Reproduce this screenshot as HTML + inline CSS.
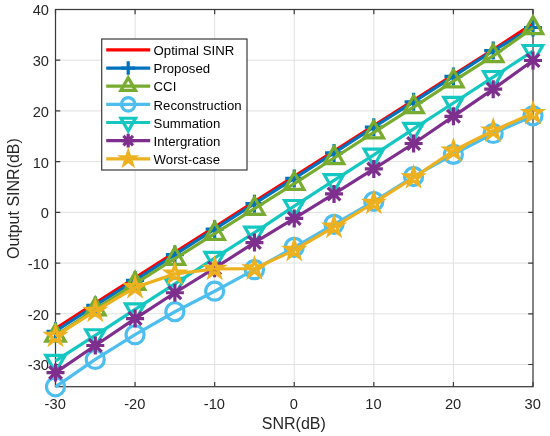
<!DOCTYPE html>
<html><head><meta charset="utf-8"><title>Output SINR versus SNR</title>
<style>html,body{margin:0;padding:0;background:#fff;}body{width:550px;height:436px;overflow:hidden;}svg{display:block;}</style>
</head><body>
<svg width="550" height="436" viewBox="0 0 550 436">
<rect width="550" height="436" fill="#fff"/>
<path d="M135.08 9.5V386.7M214.67 9.5V386.7M294.25 9.5V386.7M373.83 9.5V386.7M453.42 9.5V386.7M55.5 364.5H533M55.5 313.79H533M55.5 263.07H533M55.5 212.36H533M55.5 161.64H533M55.5 110.93H533M55.5 60.21H533" stroke="#e1e1e1" stroke-width="1" fill="none"/>
<path d="M55.5 386.7v-4.8M55.5 9.5v4.8M135.08 386.7v-4.8M135.08 9.5v4.8M214.67 386.7v-4.8M214.67 9.5v4.8M294.25 386.7v-4.8M294.25 9.5v4.8M373.83 386.7v-4.8M373.83 9.5v4.8M453.42 386.7v-4.8M453.42 9.5v4.8M533 386.7v-4.8M533 9.5v4.8M55.5 364.5h4.8M533 364.5h-4.8M55.5 313.79h4.8M533 313.79h-4.8M55.5 263.07h4.8M533 263.07h-4.8M55.5 212.36h4.8M533 212.36h-4.8M55.5 161.64h4.8M533 161.64h-4.8M55.5 110.93h4.8M533 110.93h-4.8M55.5 60.21h4.8M533 60.21h-4.8M55.5 9.5h4.8M533 9.5h-4.8" stroke="#3a3a3a" stroke-width="1.2" fill="none"/>
<rect x="55.5" y="9.5" width="477.5" height="377.2" fill="none" stroke="#3a3a3a" stroke-width="1.25"/>
<g font-family="'Liberation Sans', Arial, Helvetica, sans-serif" fill="#262626">
<g font-size="14.67">
<text x="55.2" y="408.5" text-anchor="middle">-30</text>
<text x="134.78" y="408.5" text-anchor="middle">-20</text>
<text x="214.37" y="408.5" text-anchor="middle">-10</text>
<text x="293.95" y="408.5" text-anchor="middle">0</text>
<text x="373.53" y="408.5" text-anchor="middle">10</text>
<text x="453.12" y="408.5" text-anchor="middle">20</text>
<text x="532.7" y="408.5" text-anchor="middle">30</text>
<text x="49.0" y="370.4" text-anchor="end">-30</text>
<text x="49.0" y="319.69" text-anchor="end">-20</text>
<text x="49.0" y="268.97" text-anchor="end">-10</text>
<text x="49.0" y="218.26" text-anchor="end">0</text>
<text x="49.0" y="167.54" text-anchor="end">10</text>
<text x="49.0" y="116.83" text-anchor="end">20</text>
<text x="49.0" y="66.11" text-anchor="end">30</text>
<text x="49.0" y="15.4" text-anchor="end">40</text>
</g>
<text x="293.8" y="429.4" font-size="16" text-anchor="middle">SNR(dB)</text>
<text transform="translate(18.8 198.6) rotate(-90)" font-size="16" text-anchor="middle">Output SINR(dB)</text>
</g>
<polyline points="55.5,328.49 95.29,303.14 135.08,277.78 174.88,252.42 214.67,227.06 254.46,201.71 294.25,176.35 334.04,150.99 373.83,125.64 413.62,100.28 453.42,74.92 493.21,49.56 533,23.7" fill="none" stroke="#ff0000" stroke-width="3.2" stroke-linejoin="round"/>
<polyline points="55.5,331.28 95.29,305.42 135.08,280.31 174.88,254.6 214.67,229.19 254.46,203.63 294.25,178.38 334.04,152.92 373.83,127.16 413.62,101.8 453.42,76.44 493.21,50.58 533,27.5" fill="none" stroke="#0072bd" stroke-width="3.2" stroke-linejoin="round"/>
<path d="M46.5 331.28H64.5M55.5 322.28V340.28" stroke="#0072bd" stroke-width="3.2" fill="none"/>
<path d="M86.29 305.42H104.29M95.29 296.42V314.42" stroke="#0072bd" stroke-width="3.2" fill="none"/>
<path d="M126.08 280.31H144.08M135.08 271.31V289.31" stroke="#0072bd" stroke-width="3.2" fill="none"/>
<path d="M165.88 254.6H183.88M174.88 245.6V263.6" stroke="#0072bd" stroke-width="3.2" fill="none"/>
<path d="M205.67 229.19H223.67M214.67 220.19V238.19" stroke="#0072bd" stroke-width="3.2" fill="none"/>
<path d="M245.46 203.63H263.46M254.46 194.63V212.63" stroke="#0072bd" stroke-width="3.2" fill="none"/>
<path d="M285.25 178.38H303.25M294.25 169.38V187.38" stroke="#0072bd" stroke-width="3.2" fill="none"/>
<path d="M325.04 152.92H343.04M334.04 143.92V161.92" stroke="#0072bd" stroke-width="3.2" fill="none"/>
<path d="M364.83 127.16H382.83M373.83 118.16V136.16" stroke="#0072bd" stroke-width="3.2" fill="none"/>
<path d="M404.62 101.8H422.62M413.62 92.8V110.8" stroke="#0072bd" stroke-width="3.2" fill="none"/>
<path d="M444.42 76.44H462.42M453.42 67.44V85.44" stroke="#0072bd" stroke-width="3.2" fill="none"/>
<path d="M484.21 50.58H502.21M493.21 41.58V59.58" stroke="#0072bd" stroke-width="3.2" fill="none"/>
<path d="M524 27.5H542M533 18.5V36.5" stroke="#0072bd" stroke-width="3.2" fill="none"/>
<polyline points="55.5,335.59 95.29,309.22 135.08,283.71 174.88,258.71 214.67,233.71 254.46,208.71 294.25,183.7 334.04,157.99 373.83,132.33 413.62,107.12 453.42,81.21 493.21,55.95 533,28.01" fill="none" stroke="#77ac30" stroke-width="3.2" stroke-linejoin="round"/>
<path d="M55.5 324.4L45.8 341.19L65.2 341.19Z" stroke="#77ac30" stroke-width="3.2" fill="none" stroke-linejoin="miter"/>
<path d="M95.29 298.03L85.6 314.82L104.99 314.82Z" stroke="#77ac30" stroke-width="3.2" fill="none" stroke-linejoin="miter"/>
<path d="M135.08 272.52L125.39 289.31L144.78 289.31Z" stroke="#77ac30" stroke-width="3.2" fill="none" stroke-linejoin="miter"/>
<path d="M174.88 247.51L165.18 264.31L184.57 264.31Z" stroke="#77ac30" stroke-width="3.2" fill="none" stroke-linejoin="miter"/>
<path d="M214.67 222.51L204.97 239.31L224.36 239.31Z" stroke="#77ac30" stroke-width="3.2" fill="none" stroke-linejoin="miter"/>
<path d="M254.46 197.51L244.76 214.3L264.15 214.3Z" stroke="#77ac30" stroke-width="3.2" fill="none" stroke-linejoin="miter"/>
<path d="M294.25 172.51L284.55 189.3L303.95 189.3Z" stroke="#77ac30" stroke-width="3.2" fill="none" stroke-linejoin="miter"/>
<path d="M334.04 146.8L324.35 163.59L343.74 163.59Z" stroke="#77ac30" stroke-width="3.2" fill="none" stroke-linejoin="miter"/>
<path d="M373.83 121.13L364.14 137.93L383.53 137.93Z" stroke="#77ac30" stroke-width="3.2" fill="none" stroke-linejoin="miter"/>
<path d="M413.62 95.93L403.93 112.72L423.32 112.72Z" stroke="#77ac30" stroke-width="3.2" fill="none" stroke-linejoin="miter"/>
<path d="M453.42 70.01L443.72 86.81L463.11 86.81Z" stroke="#77ac30" stroke-width="3.2" fill="none" stroke-linejoin="miter"/>
<path d="M493.21 44.76L483.51 61.55L502.9 61.55Z" stroke="#77ac30" stroke-width="3.2" fill="none" stroke-linejoin="miter"/>
<path d="M533 16.81L523.3 33.61L542.7 33.61Z" stroke="#77ac30" stroke-width="3.2" fill="none" stroke-linejoin="miter"/>
<polyline points="55.5,386.81 95.29,359.43 135.08,334.73 174.88,311.76 214.67,291.22 254.46,269.66 294.25,247.35 334.04,224.28 373.83,201.5 413.62,176.6 453.42,154.39 493.21,133.5 533,115.75" fill="none" stroke="#4dbeee" stroke-width="3.2" stroke-linejoin="round"/>
<circle cx="55.5" cy="386.81" r="9" stroke="#4dbeee" stroke-width="3.2" fill="none"/>
<circle cx="95.29" cy="359.43" r="9" stroke="#4dbeee" stroke-width="3.2" fill="none"/>
<circle cx="135.08" cy="334.73" r="9" stroke="#4dbeee" stroke-width="3.2" fill="none"/>
<circle cx="174.88" cy="311.76" r="9" stroke="#4dbeee" stroke-width="3.2" fill="none"/>
<circle cx="214.67" cy="291.22" r="9" stroke="#4dbeee" stroke-width="3.2" fill="none"/>
<circle cx="254.46" cy="269.66" r="9" stroke="#4dbeee" stroke-width="3.2" fill="none"/>
<circle cx="294.25" cy="247.35" r="9" stroke="#4dbeee" stroke-width="3.2" fill="none"/>
<circle cx="334.04" cy="224.28" r="9" stroke="#4dbeee" stroke-width="3.2" fill="none"/>
<circle cx="373.83" cy="201.5" r="9" stroke="#4dbeee" stroke-width="3.2" fill="none"/>
<circle cx="413.62" cy="176.6" r="9" stroke="#4dbeee" stroke-width="3.2" fill="none"/>
<circle cx="453.42" cy="154.39" r="9" stroke="#4dbeee" stroke-width="3.2" fill="none"/>
<circle cx="493.21" cy="133.5" r="9" stroke="#4dbeee" stroke-width="3.2" fill="none"/>
<circle cx="533" cy="115.75" r="9" stroke="#4dbeee" stroke-width="3.2" fill="none"/>
<polyline points="55.5,360.95 95.29,335.34 135.08,309.42 174.88,283.86 214.67,258 254.46,232.64 294.25,206.12 334.04,180.31 373.83,154.8 413.62,128.93 453.42,103.02 493.21,77.1 533,51.09" fill="none" stroke="#14c7c1" stroke-width="3.2" stroke-linejoin="round"/>
<path d="M55.5 372.15L45.8 355.35L65.2 355.35Z" stroke="#14c7c1" stroke-width="3.2" fill="none" stroke-linejoin="miter"/>
<path d="M95.29 346.54L85.6 329.74L104.99 329.74Z" stroke="#14c7c1" stroke-width="3.2" fill="none" stroke-linejoin="miter"/>
<path d="M135.08 320.62L125.39 303.83L144.78 303.83Z" stroke="#14c7c1" stroke-width="3.2" fill="none" stroke-linejoin="miter"/>
<path d="M174.88 295.06L165.18 278.27L184.57 278.27Z" stroke="#14c7c1" stroke-width="3.2" fill="none" stroke-linejoin="miter"/>
<path d="M214.67 269.2L204.97 252.4L224.36 252.4Z" stroke="#14c7c1" stroke-width="3.2" fill="none" stroke-linejoin="miter"/>
<path d="M254.46 243.84L244.76 227.04L264.15 227.04Z" stroke="#14c7c1" stroke-width="3.2" fill="none" stroke-linejoin="miter"/>
<path d="M294.25 217.32L284.55 200.52L303.95 200.52Z" stroke="#14c7c1" stroke-width="3.2" fill="none" stroke-linejoin="miter"/>
<path d="M334.04 191.5L324.35 174.71L343.74 174.71Z" stroke="#14c7c1" stroke-width="3.2" fill="none" stroke-linejoin="miter"/>
<path d="M373.83 165.99L364.14 149.2L383.53 149.2Z" stroke="#14c7c1" stroke-width="3.2" fill="none" stroke-linejoin="miter"/>
<path d="M413.62 140.13L403.93 123.33L423.32 123.33Z" stroke="#14c7c1" stroke-width="3.2" fill="none" stroke-linejoin="miter"/>
<path d="M453.42 114.21L443.72 97.42L463.11 97.42Z" stroke="#14c7c1" stroke-width="3.2" fill="none" stroke-linejoin="miter"/>
<path d="M493.21 88.3L483.51 71.5L502.9 71.5Z" stroke="#14c7c1" stroke-width="3.2" fill="none" stroke-linejoin="miter"/>
<path d="M533 62.28L523.3 45.49L542.7 45.49Z" stroke="#14c7c1" stroke-width="3.2" fill="none" stroke-linejoin="miter"/>
<polyline points="55.5,372.61 95.29,345.48 135.08,318.6 174.88,292.74 214.67,268.14 254.46,242.53 294.25,218.39 334.04,193.9 373.83,168.89 413.62,143.49 453.42,116.35 493.21,89.17 533,60.52" fill="none" stroke="#7e2f8e" stroke-width="3.2" stroke-linejoin="round"/>
<path d="M46.5 372.61H64.5M55.5 363.61V381.61M49.14 366.25L61.86 378.98M49.14 378.98L61.86 366.25" stroke="#7e2f8e" stroke-width="3.2" fill="none"/>
<path d="M86.29 345.48H104.29M95.29 336.48V354.48M88.93 339.12L101.66 351.85M88.93 351.85L101.66 339.12" stroke="#7e2f8e" stroke-width="3.2" fill="none"/>
<path d="M126.08 318.6H144.08M135.08 309.6V327.6M128.72 312.24L141.45 324.97M128.72 324.97L141.45 312.24" stroke="#7e2f8e" stroke-width="3.2" fill="none"/>
<path d="M165.88 292.74H183.88M174.88 283.74V301.74M168.51 286.38L181.24 299.1M168.51 299.1L181.24 286.38" stroke="#7e2f8e" stroke-width="3.2" fill="none"/>
<path d="M205.67 268.14H223.67M214.67 259.14V277.14M208.3 261.78L221.03 274.51M208.3 274.51L221.03 261.78" stroke="#7e2f8e" stroke-width="3.2" fill="none"/>
<path d="M245.46 242.53H263.46M254.46 233.53V251.53M248.09 236.17L260.82 248.9M248.09 248.9L260.82 236.17" stroke="#7e2f8e" stroke-width="3.2" fill="none"/>
<path d="M285.25 218.39H303.25M294.25 209.39V227.39M287.89 212.03L300.61 224.76M287.89 224.76L300.61 212.03" stroke="#7e2f8e" stroke-width="3.2" fill="none"/>
<path d="M325.04 193.9H343.04M334.04 184.9V202.9M327.68 187.53L340.41 200.26M327.68 200.26L340.41 187.53" stroke="#7e2f8e" stroke-width="3.2" fill="none"/>
<path d="M364.83 168.89H382.83M373.83 159.89V177.89M367.47 162.53L380.2 175.26M367.47 175.26L380.2 162.53" stroke="#7e2f8e" stroke-width="3.2" fill="none"/>
<path d="M404.62 143.49H422.62M413.62 134.49V152.49M407.26 137.12L419.99 149.85M407.26 149.85L419.99 137.12" stroke="#7e2f8e" stroke-width="3.2" fill="none"/>
<path d="M444.42 116.35H462.42M453.42 107.35V125.35M447.05 109.99L459.78 122.72M447.05 122.72L459.78 109.99" stroke="#7e2f8e" stroke-width="3.2" fill="none"/>
<path d="M484.21 89.17H502.21M493.21 80.17V98.17M486.84 82.81L499.57 95.54M486.84 95.54L499.57 82.81" stroke="#7e2f8e" stroke-width="3.2" fill="none"/>
<path d="M524 60.52H542M533 51.52V69.52M526.64 54.15L539.36 66.88M526.64 66.88L539.36 54.15" stroke="#7e2f8e" stroke-width="3.2" fill="none"/>
<polyline points="55.5,336.1 95.29,311 135.08,287.41 174.88,273.87 214.67,269 254.46,268.65 294.25,250.14 334.04,226.91 373.83,202.97 413.62,177.62 453.42,150.79 493.21,130.71 533,113.31" fill="none" stroke="#edb120" stroke-width="3.2" stroke-linejoin="round"/>
<path d="M55.5 327.37L57.46 333.4L63.8 333.4L58.67 337.13L60.63 343.16L55.5 339.43L50.37 343.16L52.33 337.13L47.2 333.4L53.54 333.4Z" stroke="#edb120" stroke-width="3.2" fill="none" stroke-linejoin="miter" stroke-miterlimit="10"/>
<path d="M95.29 302.27L97.25 308.3L103.59 308.3L98.46 312.03L100.42 318.06L95.29 314.33L90.16 318.06L92.12 312.03L86.99 308.3L93.33 308.3Z" stroke="#edb120" stroke-width="3.2" fill="none" stroke-linejoin="miter" stroke-miterlimit="10"/>
<path d="M135.08 278.68L137.04 284.72L143.39 284.72L138.25 288.44L140.21 294.48L135.08 290.75L129.95 294.48L131.91 288.44L126.78 284.72L133.12 284.72Z" stroke="#edb120" stroke-width="3.2" fill="none" stroke-linejoin="miter" stroke-miterlimit="10"/>
<path d="M174.88 265.14L176.84 271.18L183.18 271.18L178.05 274.9L180.01 280.94L174.88 277.21L169.74 280.94L171.7 274.9L166.57 271.18L172.91 271.18Z" stroke="#edb120" stroke-width="3.2" fill="none" stroke-linejoin="miter" stroke-miterlimit="10"/>
<path d="M214.67 260.27L216.63 266.31L222.97 266.31L217.84 270.04L219.8 276.07L214.67 272.34L209.54 276.07L211.5 270.04L206.36 266.31L212.71 266.31Z" stroke="#edb120" stroke-width="3.2" fill="none" stroke-linejoin="miter" stroke-miterlimit="10"/>
<path d="M254.46 259.92L256.42 265.95L262.76 265.95L257.63 269.68L259.59 275.71L254.46 271.98L249.33 275.71L251.29 269.68L246.16 265.95L252.5 265.95Z" stroke="#edb120" stroke-width="3.2" fill="none" stroke-linejoin="miter" stroke-miterlimit="10"/>
<path d="M294.25 241.41L296.21 247.44L302.55 247.44L297.42 251.17L299.38 257.2L294.25 253.47L289.12 257.2L291.08 251.17L285.95 247.44L292.29 247.44Z" stroke="#edb120" stroke-width="3.2" fill="none" stroke-linejoin="miter" stroke-miterlimit="10"/>
<path d="M334.04 218.18L336 224.21L342.34 224.21L337.21 227.94L339.17 233.97L334.04 230.25L328.91 233.97L330.87 227.94L325.74 224.21L332.08 224.21Z" stroke="#edb120" stroke-width="3.2" fill="none" stroke-linejoin="miter" stroke-miterlimit="10"/>
<path d="M373.83 194.25L375.79 200.28L382.14 200.28L377 204.01L378.96 210.04L373.83 206.31L368.7 210.04L370.66 204.01L365.53 200.28L371.87 200.28Z" stroke="#edb120" stroke-width="3.2" fill="none" stroke-linejoin="miter" stroke-miterlimit="10"/>
<path d="M413.62 168.89L415.59 174.92L421.93 174.92L416.8 178.65L418.76 184.68L413.62 180.95L408.49 184.68L410.45 178.65L405.32 174.92L411.66 174.92Z" stroke="#edb120" stroke-width="3.2" fill="none" stroke-linejoin="miter" stroke-miterlimit="10"/>
<path d="M453.42 142.06L455.38 148.09L461.72 148.09L456.59 151.82L458.55 157.85L453.42 154.12L448.29 157.85L450.25 151.82L445.11 148.09L451.46 148.09Z" stroke="#edb120" stroke-width="3.2" fill="none" stroke-linejoin="miter" stroke-miterlimit="10"/>
<path d="M493.21 121.98L495.17 128.01L501.51 128.01L496.38 131.74L498.34 137.77L493.21 134.04L488.08 137.77L490.04 131.74L484.91 128.01L491.25 128.01Z" stroke="#edb120" stroke-width="3.2" fill="none" stroke-linejoin="miter" stroke-miterlimit="10"/>
<path d="M533 104.58L534.96 110.61L541.3 110.61L536.17 114.34L538.13 120.37L533 116.65L527.87 120.37L529.83 114.34L524.7 110.61L531.04 110.61Z" stroke="#edb120" stroke-width="3.2" fill="none" stroke-linejoin="miter" stroke-miterlimit="10"/>
<rect x="101.7" y="39" width="145.3" height="131" fill="#fff" stroke="#3a3a3a" stroke-width="1.2"/>
<g font-family="'Liberation Sans', Arial, Helvetica, sans-serif" fill="#000" font-size="13.2">
<path d="M106.2 49.9H150.2" stroke="#ff0000" stroke-width="3.2"/>
<text x="153.6" y="55.1">Optimal SINR</text>
<path d="M106.2 68.05H150.2" stroke="#0072bd" stroke-width="3.2"/>
<path d="M121.4 68.05H135M128.2 61.25V74.85" stroke="#0072bd" stroke-width="3.2" fill="none"/>
<text x="153.6" y="73.25">Proposed</text>
<path d="M106.2 86.2H150.2" stroke="#77ac30" stroke-width="3.2"/>
<path d="M128.2 77.74L120.87 90.43L135.53 90.43Z" stroke="#77ac30" stroke-width="3.2" fill="none" stroke-linejoin="miter"/>
<text x="153.6" y="91.4">CCI</text>
<path d="M106.2 104.35H150.2" stroke="#4dbeee" stroke-width="3.2"/>
<circle cx="128.2" cy="104.35" r="6.8" stroke="#4dbeee" stroke-width="3.2" fill="none"/>
<text x="153.6" y="109.55">Reconstruction</text>
<path d="M106.2 122.5H150.2" stroke="#14c7c1" stroke-width="3.2"/>
<path d="M128.2 130.96L120.87 118.27L135.53 118.27Z" stroke="#14c7c1" stroke-width="3.2" fill="none" stroke-linejoin="miter"/>
<text x="153.6" y="127.7">Summation</text>
<path d="M106.2 140.65H150.2" stroke="#7e2f8e" stroke-width="3.2"/>
<path d="M121.4 140.65H135M128.2 133.85V147.45M123.39 135.84L133.01 145.46M123.39 145.46L133.01 135.84" stroke="#7e2f8e" stroke-width="3.2" fill="none"/>
<text x="153.6" y="145.85">Intergration</text>
<path d="M106.2 158.8H150.2" stroke="#edb120" stroke-width="3.2"/>
<path d="M128.2 152.2L129.68 156.76L134.47 156.76L130.6 159.58L132.08 164.14L128.2 161.32L124.32 164.14L125.8 159.58L121.93 156.76L126.72 156.76Z" stroke="#edb120" stroke-width="3.2" fill="none" stroke-linejoin="miter" stroke-miterlimit="10"/>
<text x="153.6" y="164">Worst-case</text>
</g>
</svg>
</body></html>
